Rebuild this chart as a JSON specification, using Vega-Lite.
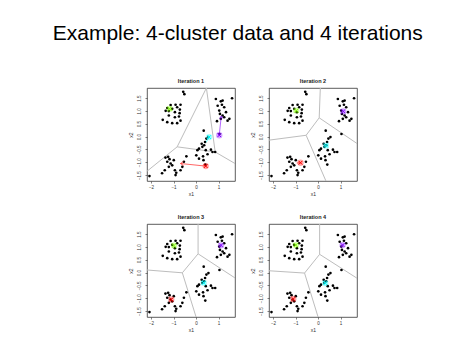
{
  "$schema": "https://vega.github.io/schema/vega-lite/v6.json",
  "padding": {"left": 52, "top": 22, "right": 5, "bottom": 5},
  "background": "white",
  "title": {"text": "Example: 4-cluster data and 4 iterations", "fontSize": 21, "fontWeight": "normal", "font": "Liberation Sans", "anchor": "middle", "offset": 35, "dx": -5, "color": "black"},
  "datasets": {
    "points": [
      {"x1": -0.57, "x2": 1.74}, {"x1": -0.52, "x2": 1.65}, {"x1": -1.13, "x2": 1.23}, {"x1": -0.91, "x2": 1.24}, {"x1": -0.69, "x2": 1.24},
      {"x1": -1.28, "x2": 1.11}, {"x1": -1.06, "x2": 1.08}, {"x1": -0.84, "x2": 1.14}, {"x1": -0.72, "x2": 1.05}, {"x1": -1.21, "x2": 0.99},
      {"x1": -0.94, "x2": 0.95}, {"x1": -0.73, "x2": 0.91}, {"x1": -1.48, "x2": 0.65}, {"x1": -1.28, "x2": 0.56}, {"x1": -1.06, "x2": 0.52},
      {"x1": -0.84, "x2": 0.52}, {"x1": -1.21, "x2": 0.82}, {"x1": -0.94, "x2": 0.75}, {"x1": -0.76, "x2": 0.78}, {"x1": -0.69, "x2": 0.62},
      {"x1": -1.35, "x2": 1.0},
      {"x1": 0.88, "x2": 1.46}, {"x1": 1.10, "x2": 1.37}, {"x1": 1.18, "x2": 1.40}, {"x1": 1.6, "x2": 1.49}, {"x1": 0.96, "x2": 1.2},
      {"x1": 1.15, "x2": 1.24}, {"x1": 1.25, "x2": 1.14}, {"x1": 1.03, "x2": 1.01}, {"x1": 1.33, "x2": 0.95}, {"x1": 1.18, "x2": 0.82},
      {"x1": 1.48, "x2": 0.69}, {"x1": 1.40, "x2": 0.62}, {"x1": 0.93, "x2": 0.60}, {"x1": 1.25, "x2": 0.75}, {"x1": 1.06, "x2": 0.88},
      {"x1": 1.1, "x2": 0.69},
      {"x1": 0.55, "x2": -0.02}, {"x1": 0.46, "x2": -0.08}, {"x1": 0.25, "x2": -0.28}, {"x1": 0.36, "x2": -0.34}, {"x1": 0.28, "x2": -0.40},
      {"x1": 0.13, "x2": -0.47}, {"x1": 0.06, "x2": -0.53}, {"x1": 0.43, "x2": -0.53}, {"x1": 0.66, "x2": -0.51}, {"x1": 0.73, "x2": -0.60},
      {"x1": 0.51, "x2": -0.69}, {"x1": 0.31, "x2": -0.77}, {"x1": 0.13, "x2": -0.86}, {"x1": 0.01, "x2": -0.73}, {"x1": 0.33, "x2": -0.92},
      {"x1": 0.85, "x2": -0.60}, {"x1": 0.40, "x2": -0.21}, {"x1": 0.34, "x2": 0.23}, {"x1": 1.04, "x2": 0.1}, {"x1": 0.41, "x2": -1.09},
      {"x1": -1.36, "x2": -0.82}, {"x1": -1.24, "x2": -0.79}, {"x1": -1.18, "x2": -0.88}, {"x1": -1.28, "x2": -0.98}, {"x1": -1.13, "x2": -1.05},
      {"x1": -1.21, "x2": -1.18}, {"x1": -1.39, "x2": -1.31}, {"x1": -1.51, "x2": -1.43}, {"x1": -0.94, "x2": -1.31}, {"x1": -0.88, "x2": -1.41},
      {"x1": -0.91, "x2": -1.5}, {"x1": -0.61, "x2": -1.18}, {"x1": -0.43, "x2": -0.77}, {"x1": -0.54, "x2": -0.98}, {"x1": -0.69, "x2": -1.31},
      {"x1": -2.07, "x2": -1.54}, {"x1": -1.06, "x2": -1.12}, {"x1": -0.99, "x2": -0.92}
    ],
    "borders": [
      {"iter": 1, "x1": 0.46, "x2": 1.89, "x1e": -0.84, "x2e": -0.40},
      {"iter": 1, "x1": -0.84, "x2": -0.40, "x1e": -2.18, "x2e": -1.35},
      {"iter": 1, "x1": -0.84, "x2": -0.40, "x1e": 0.85, "x2e": -0.60},
      {"iter": 1, "x1": 0.85, "x2": -0.60, "x1e": 1.73, "x2e": -1.05},
      {"iter": 1, "x1": 0.46, "x2": 1.89, "x1e": 0.85, "x2e": -0.60},
      {"iter": 2, "x1": 0.10, "x2": 1.89, "x1e": 0.05, "x2e": 0.73},
      {"iter": 2, "x1": 0.05, "x2": 0.73, "x1e": 1.73, "x2e": -0.27},
      {"iter": 2, "x1": 0.05, "x2": 0.73, "x1e": -0.53, "x2e": 0.05},
      {"iter": 2, "x1": -0.53, "x2": 0.05, "x1e": -2.18, "x2e": -0.14},
      {"iter": 2, "x1": -0.53, "x2": 0.05, "x1e": 0.35, "x2e": -1.73},
      {"iter": 3, "x1": 0.09, "x2": 1.89, "x1e": 0.09, "x2e": 0.73},
      {"iter": 3, "x1": 0.09, "x2": 0.73, "x1e": 1.73, "x2e": -0.21},
      {"iter": 3, "x1": 0.09, "x2": 0.73, "x1e": -0.61, "x2e": -0.01},
      {"iter": 3, "x1": -0.61, "x2": -0.01, "x1e": -2.18, "x2e": 0.1},
      {"iter": 3, "x1": -0.61, "x2": -0.01, "x1e": 0.0, "x2e": -1.73},
      {"iter": 4, "x1": 0.07, "x2": 1.89, "x1e": 0.07, "x2e": 0.71},
      {"iter": 4, "x1": 0.07, "x2": 0.71, "x1e": 1.73, "x2e": -0.22},
      {"iter": 4, "x1": 0.07, "x2": 0.71, "x1e": -0.60, "x2e": -0.02},
      {"iter": 4, "x1": -0.60, "x2": -0.02, "x1e": -2.18, "x2e": 0.07},
      {"iter": 4, "x1": -0.60, "x2": -0.02, "x1e": 0.0, "x2e": -1.73}
    ],
    "centers": [
      {"iter": 1, "cluster": "red", "x1": 0.43, "x2": -1.15}, {"iter": 1, "cluster": "green", "x1": -1.18, "x2": 1.08},
      {"iter": 1, "cluster": "cyan", "x1": 0.58, "x2": -0.02}, {"iter": 1, "cluster": "purple", "x1": 1.03, "x2": 0.05},
      {"iter": 2, "cluster": "red", "x1": -0.78, "x2": -1.02}, {"iter": 2, "cluster": "green", "x1": -0.97, "x2": 1.01},
      {"iter": 2, "cluster": "cyan", "x1": 0.35, "x2": -0.35}, {"iter": 2, "cluster": "purple", "x1": 1.12, "x2": 0.98},
      {"iter": 3, "cluster": "red", "x1": -1.10, "x2": -1.05}, {"iter": 3, "cluster": "green", "x1": -0.98, "x2": 1.05},
      {"iter": 3, "cluster": "cyan", "x1": 0.34, "x2": -0.40}, {"iter": 3, "cluster": "purple", "x1": 1.11, "x2": 1.06},
      {"iter": 4, "cluster": "red", "x1": -1.10, "x2": -1.03}, {"iter": 4, "cluster": "green", "x1": -0.99, "x2": 1.07},
      {"iter": 4, "cluster": "cyan", "x1": 0.32, "x2": -0.41}, {"iter": 4, "cluster": "purple", "x1": 1.09, "x2": 1.07}
    ],
    "moves": [
      {"iter": 1, "cluster": "red", "x1": 0.43, "x2": -1.15, "x1e": -0.69, "x2e": -1.05},
      {"iter": 1, "cluster": "red", "x1": -0.69, "x2": -1.05, "x1e": -0.56, "x2e": -0.97},
      {"iter": 1, "cluster": "red", "x1": -0.69, "x2": -1.05, "x1e": -0.56, "x2e": -1.13},
      {"iter": 1, "cluster": "purple", "x1": 1.03, "x2": 0.05, "x1e": 1.12, "x2e": 0.80},
      {"iter": 1, "cluster": "purple", "x1": 1.12, "x2": 0.80, "x1e": 1.04, "x2e": 0.70},
      {"iter": 1, "cluster": "purple", "x1": 1.12, "x2": 0.80, "x1e": 1.20, "x2e": 0.71},
      {"iter": 1, "cluster": "cyan", "x1": 0.58, "x2": -0.02, "x1e": 0.45, "x2e": -0.22},
      {"iter": 1, "cluster": "green", "x1": -1.18, "x2": 1.08, "x1e": -1.05, "x2e": 1.02},
      {"iter": 2, "cluster": "red", "x1": -0.78, "x2": -1.02, "x1e": -0.95, "x2e": -1.03}
    ]
  },
  "columns": 2,
  "spacing": {"row": 17, "column": 13},
  "concat": [
    {
      "title": "Iteration 1", "width": 88, "height": 93,
      "encoding": {
        "x": {"field": "x1", "type": "quantitative", "scale": {"domain": [-2.18, 1.73], "nice": false, "zero": false}, "axis": {"values": [-2, -1, 0, 1], "format": "d", "title": "x1"}},
        "y": {"field": "x2", "type": "quantitative", "scale": {"domain": [-1.73, 1.89], "nice": false, "zero": false}, "axis": {"values": [-1.5, -1, -0.5, 0, 0.5, 1, 1.5], "format": ".1f", "title": "x2"}}
      },
      "layer": [
        {"data": {"name": "borders"}, "transform": [{"filter": "datum.iter == 1"}], "mark": {"type": "rule", "color": "#bdbdbd", "strokeWidth": 1}, "encoding": {"x2": {"field": "x1e"}, "y2": {"field": "x2e"}}},
        {"data": {"name": "points"}, "mark": {"type": "circle", "color": "black", "size": 7, "opacity": 1}},
        {"data": {"name": "moves"}, "transform": [{"filter": "datum.iter == 1"}], "mark": {"type": "rule", "strokeWidth": 1, "opacity": 0.6}, "encoding": {"x2": {"field": "x1e"}, "y2": {"field": "x2e"}, "color": {"field": "cluster", "type": "nominal", "scale": {"domain": ["red", "green", "cyan", "purple"], "range": ["#FF0000", "#80FF00", "#00FFFF", "#8000FF"]}, "legend": null}}},
        {"data": {"name": "centers"}, "transform": [{"filter": "datum.iter == 1"}], "mark": {"type": "point", "shape": "circle", "filled": true, "size": 40, "opacity": 0.35}, "encoding": {"color": {"field": "cluster", "type": "nominal", "scale": {"domain": ["red", "green", "cyan", "purple"], "range": ["#FF0000", "#80FF00", "#00FFFF", "#8000FF"]}, "legend": null}}},
        {"data": {"name": "centers"}, "transform": [{"filter": "datum.iter == 1"}], "mark": {"type": "point", "shape": "M-1,-1L1,1M-1,1L1,-1", "filled": false, "size": 14, "strokeWidth": 1, "opacity": 1}, "encoding": {"color": {"field": "cluster", "type": "nominal", "scale": {"domain": ["red", "green", "cyan", "purple"], "range": ["#FF0000", "#80FF00", "#00FFFF", "#8000FF"]}, "legend": null}}}
      ]
    },
    {
      "title": "Iteration 2", "width": 88, "height": 93,
      "encoding": {
        "x": {"field": "x1", "type": "quantitative", "scale": {"domain": [-2.18, 1.73], "nice": false, "zero": false}, "axis": {"values": [-2, -1, 0, 1], "format": "d", "title": "x1"}},
        "y": {"field": "x2", "type": "quantitative", "scale": {"domain": [-1.73, 1.89], "nice": false, "zero": false}, "axis": {"values": [-1.5, -1, -0.5, 0, 0.5, 1, 1.5], "format": ".1f", "title": "x2"}}
      },
      "layer": [
        {"data": {"name": "borders"}, "transform": [{"filter": "datum.iter == 2"}], "mark": {"type": "rule", "color": "#bdbdbd", "strokeWidth": 1}, "encoding": {"x2": {"field": "x1e"}, "y2": {"field": "x2e"}}},
        {"data": {"name": "points"}, "mark": {"type": "circle", "color": "black", "size": 7, "opacity": 1}},
        {"data": {"name": "moves"}, "transform": [{"filter": "datum.iter == 2"}], "mark": {"type": "rule", "strokeWidth": 1, "opacity": 0.6}, "encoding": {"x2": {"field": "x1e"}, "y2": {"field": "x2e"}, "color": {"field": "cluster", "type": "nominal", "scale": {"domain": ["red", "green", "cyan", "purple"], "range": ["#FF0000", "#80FF00", "#00FFFF", "#8000FF"]}, "legend": null}}},
        {"data": {"name": "centers"}, "transform": [{"filter": "datum.iter == 2"}], "mark": {"type": "point", "shape": "circle", "filled": true, "size": 40, "opacity": 0.35}, "encoding": {"color": {"field": "cluster", "type": "nominal", "scale": {"domain": ["red", "green", "cyan", "purple"], "range": ["#FF0000", "#80FF00", "#00FFFF", "#8000FF"]}, "legend": null}}},
        {"data": {"name": "centers"}, "transform": [{"filter": "datum.iter == 2"}], "mark": {"type": "point", "shape": "M-1,-1L1,1M-1,1L1,-1", "filled": false, "size": 14, "strokeWidth": 1, "opacity": 1}, "encoding": {"color": {"field": "cluster", "type": "nominal", "scale": {"domain": ["red", "green", "cyan", "purple"], "range": ["#FF0000", "#80FF00", "#00FFFF", "#8000FF"]}, "legend": null}}}
      ]
    },
    {
      "title": "Iteration 3", "width": 88, "height": 93,
      "encoding": {
        "x": {"field": "x1", "type": "quantitative", "scale": {"domain": [-2.18, 1.73], "nice": false, "zero": false}, "axis": {"values": [-2, -1, 0, 1], "format": "d", "title": "x1"}},
        "y": {"field": "x2", "type": "quantitative", "scale": {"domain": [-1.73, 1.89], "nice": false, "zero": false}, "axis": {"values": [-1.5, -1, -0.5, 0, 0.5, 1, 1.5], "format": ".1f", "title": "x2"}}
      },
      "layer": [
        {"data": {"name": "borders"}, "transform": [{"filter": "datum.iter == 3"}], "mark": {"type": "rule", "color": "#bdbdbd", "strokeWidth": 1}, "encoding": {"x2": {"field": "x1e"}, "y2": {"field": "x2e"}}},
        {"data": {"name": "points"}, "mark": {"type": "circle", "color": "black", "size": 7, "opacity": 1}},
        {"data": {"name": "centers"}, "transform": [{"filter": "datum.iter == 3"}], "mark": {"type": "point", "shape": "circle", "filled": true, "size": 40, "opacity": 0.35}, "encoding": {"color": {"field": "cluster", "type": "nominal", "scale": {"domain": ["red", "green", "cyan", "purple"], "range": ["#FF0000", "#80FF00", "#00FFFF", "#8000FF"]}, "legend": null}}},
        {"data": {"name": "centers"}, "transform": [{"filter": "datum.iter == 3"}], "mark": {"type": "point", "shape": "M-1,-1L1,1M-1,1L1,-1", "filled": false, "size": 14, "strokeWidth": 1, "opacity": 1}, "encoding": {"color": {"field": "cluster", "type": "nominal", "scale": {"domain": ["red", "green", "cyan", "purple"], "range": ["#FF0000", "#80FF00", "#00FFFF", "#8000FF"]}, "legend": null}}}
      ]
    },
    {
      "title": "Iteration 4", "width": 88, "height": 93,
      "encoding": {
        "x": {"field": "x1", "type": "quantitative", "scale": {"domain": [-2.18, 1.73], "nice": false, "zero": false}, "axis": {"values": [-2, -1, 0, 1], "format": "d", "title": "x1"}},
        "y": {"field": "x2", "type": "quantitative", "scale": {"domain": [-1.73, 1.89], "nice": false, "zero": false}, "axis": {"values": [-1.5, -1, -0.5, 0, 0.5, 1, 1.5], "format": ".1f", "title": "x2"}}
      },
      "layer": [
        {"data": {"name": "borders"}, "transform": [{"filter": "datum.iter == 4"}], "mark": {"type": "rule", "color": "#bdbdbd", "strokeWidth": 1}, "encoding": {"x2": {"field": "x1e"}, "y2": {"field": "x2e"}}},
        {"data": {"name": "points"}, "mark": {"type": "circle", "color": "black", "size": 7, "opacity": 1}},
        {"data": {"name": "centers"}, "transform": [{"filter": "datum.iter == 4"}], "mark": {"type": "point", "shape": "circle", "filled": true, "size": 40, "opacity": 0.35}, "encoding": {"color": {"field": "cluster", "type": "nominal", "scale": {"domain": ["red", "green", "cyan", "purple"], "range": ["#FF0000", "#80FF00", "#00FFFF", "#8000FF"]}, "legend": null}}},
        {"data": {"name": "centers"}, "transform": [{"filter": "datum.iter == 4"}], "mark": {"type": "point", "shape": "M-1,-1L1,1M-1,1L1,-1", "filled": false, "size": 14, "strokeWidth": 1, "opacity": 1}, "encoding": {"color": {"field": "cluster", "type": "nominal", "scale": {"domain": ["red", "green", "cyan", "purple"], "range": ["#FF0000", "#80FF00", "#00FFFF", "#8000FF"]}, "legend": null}}}
      ]
    }
  ],
  "config": {
    "font": "Liberation Sans",
    "view": {"stroke": "#333333", "strokeWidth": 0.8},
    "axis": {"grid": false, "domain": false, "tickColor": "#333333", "tickSize": 2, "tickWidth": 0.6, "labelFontSize": 4.5, "labelColor": "#333333", "labelPadding": 1, "titleFontSize": 5, "titleFontWeight": "normal", "titleColor": "#333333", "titlePadding": 3, "labelFont": "Liberation Sans", "titleFont": "Liberation Sans"},
    "axisY": {"labelAngle": 270, "labelAlign": "center", "labelBaseline": "bottom", "labelPadding": 4, "titlePadding": 3},
    "title": {"fontSize": 5.5, "font": "Liberation Sans", "fontWeight": "bold", "offset": 3, "color": "#222222"}
  }
}
